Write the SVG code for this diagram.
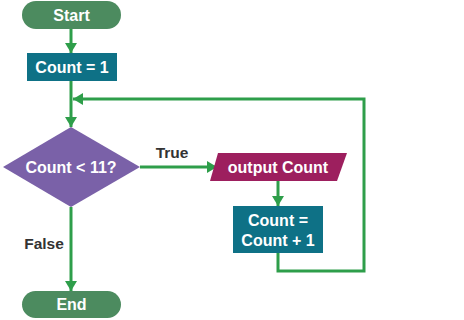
<svg xmlns="http://www.w3.org/2000/svg" width="464" height="320" viewBox="0 0 464 320">
<defs>
<marker id="ah" viewBox="0 0 10 12" refX="10" refY="6" markerWidth="10" markerHeight="12" markerUnits="userSpaceOnUse" orient="auto">
<path d="M0,0 L10,6 L0,12 Z" fill="#2e9e4a"/>
</marker>
<style>
.t{font-family:"Liberation Sans",Arial,sans-serif;font-weight:bold;font-size:16px;fill:#fff;text-anchor:middle;dominant-baseline:central}
.l{font-family:"Liberation Sans",Arial,sans-serif;font-weight:bold;font-size:15.5px;fill:#333;text-anchor:middle;dominant-baseline:central}
.c{fill:none;stroke:#2e9e4a;stroke-width:3}
.term{fill:#4c8b5f}
.proc{fill:#0e7186}
</style>
</defs>
<rect width="464" height="320" fill="#fff"/>
<g id="connectors">
<line class="c" x1="71" y1="29" x2="71" y2="53" marker-end="url(#ah)"/>
<line class="c" x1="71" y1="81" x2="71" y2="127" marker-end="url(#ah)"/>
<polyline class="c" points="278,253 278,271 364,271 364,99 73,99" marker-end="url(#ah)"/>
<line class="c" x1="140" y1="167" x2="217" y2="167" marker-end="url(#ah)"/>
<line class="c" x1="278" y1="181" x2="278" y2="206" marker-end="url(#ah)"/>
<line class="c" x1="71" y1="207" x2="71" y2="291" marker-end="url(#ah)"/>
<text class="l" x="172" y="152">True</text>
<text class="l" x="44" y="243">False</text>
</g>
<g id="start">
<rect class="term" x="22" y="1" width="99" height="28" rx="14"/>
<text class="t" x="71.5" y="15">Start</text>
</g>
<g id="init">
<rect class="proc" x="27" y="53" width="90" height="28"/>
<text class="t" x="72" y="67">Count = 1</text>
</g>
<g id="decision">
<polygon points="71,127 140,167 71,207 3,167" fill="#7a61a8"/>
<text class="t" x="71" y="167">Count &lt; 11?</text>
</g>
<g id="output">
<polygon points="218,153 347,153 337,181 210,181" fill="#9d1f5e"/>
<text class="t" x="278" y="167">output Count</text>
</g>
<g id="increment">
<rect class="proc" x="233" y="206" width="90" height="47"/>
<text class="t" x="278" y="220">Count =</text>
<text class="t" x="278" y="240">Count + 1</text>
</g>
<g id="end">
<rect class="term" x="22" y="291" width="99" height="27" rx="13.5"/>
<text class="t" x="71.5" y="304.5">End</text>
</g>
</svg>
